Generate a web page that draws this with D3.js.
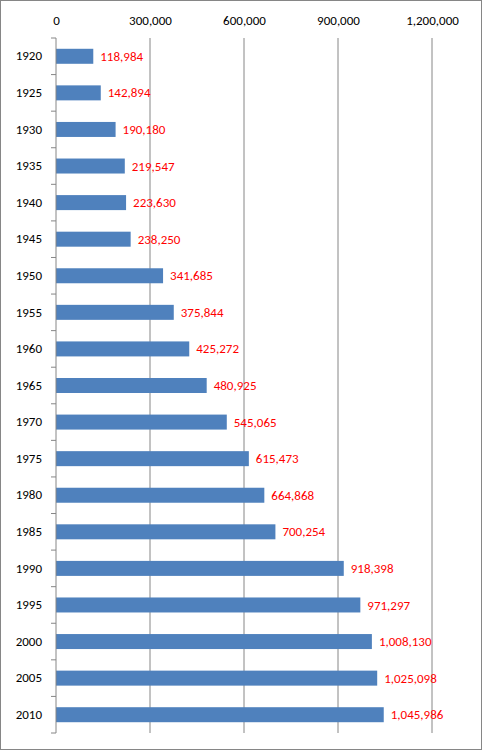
<!DOCTYPE html>
<html><head><meta charset="utf-8">
<script src="https://cdn.jsdelivr.net/npm/d3@7"></script>
<style>body{margin:0;background:#fff}text{font-family:Calibri,Carlito,"Liberation Sans",Arial,sans-serif}</style>
</head><body><svg id="chart" width="483" height="751"></svg>
<script>
// data
var years = ['1920','1925','1930','1935','1940','1945','1950','1955','1960','1965','1970','1975','1980','1985','1990','1995','2000','2005','2010'];
var population = [118984,142894,190180,219547,223630,238250,341685,375844,425272,480925,545065,615473,664868,700254,918398,971297,1008130,1025098,1045986];
var xTicks = [0,300000,600000,900000,1200000];

var svg = d3.select('#chart');
svg.append('rect').attr('x',0.5).attr('y',0.5).attr('width',481).attr('height',749)
	.attr('fill','#fff').attr('stroke','#868686');

var x = d3.scaleLinear().domain([0,1200000]).range([56,432]);
var y = d3.scaleBand().domain(years).range([38,733]).paddingInner(0.59).paddingOuter(0.295);

// grid
svg.append('g').selectAll('line').data(xTicks.slice(1)).enter().append('line')
	.attr('x1',d => x(d)).attr('x2',d => x(d)).attr('y1',38).attr('y2',733)
	.attr('stroke','#868686');

// top axis
var topAxis = svg.append('g').attr('transform','translate(0,38)')
	.call(d3.axisTop(x).tickValues(xTicks).tickFormat(d3.format(',')).tickSize(0).tickPadding(13));
topAxis.select('.domain').remove();
topAxis.selectAll('text').attr('font-size',13).attr('fill','#000');

// bars
svg.append('g').selectAll('rect').data(population).enter().append('rect')
	.attr('x',x(0)).attr('y',(d,i) => y(years[i]))
	.attr('width',d => x(d)-x(0)).attr('height',y.bandwidth())
	.attr('fill','#4f81bd');

// value labels
svg.append('g').selectAll('text').data(population).enter().append('text')
	.attr('x',d => x(d)+7).attr('y',(d,i) => y(years[i])+y.bandwidth()/2)
	.attr('dy','0.35em').attr('font-size',13).attr('fill','#ff0000')
	.text(d => d3.format(',')(d));

// left axis
var leftAxis = svg.append('g').attr('transform','translate(56,0)')
	.call(d3.axisLeft(y).tickSize(0).tickPadding(14));
leftAxis.select('.domain').remove();
leftAxis.selectAll('text').attr('font-size',13).attr('fill','#000');
// category boundary ticks
svg.append('g').selectAll('line').data(d3.range(years.length+1)).enter().append('line')
	.attr('x1',51).attr('x2',56).attr('y1',i => 38+i*695/19).attr('y2',i => 38+i*695/19)
	.attr('stroke','#868686');
svg.append('line').attr('x1',56).attr('x2',56).attr('y1',38).attr('y2',733).attr('stroke','#868686');
</script></body></html>
